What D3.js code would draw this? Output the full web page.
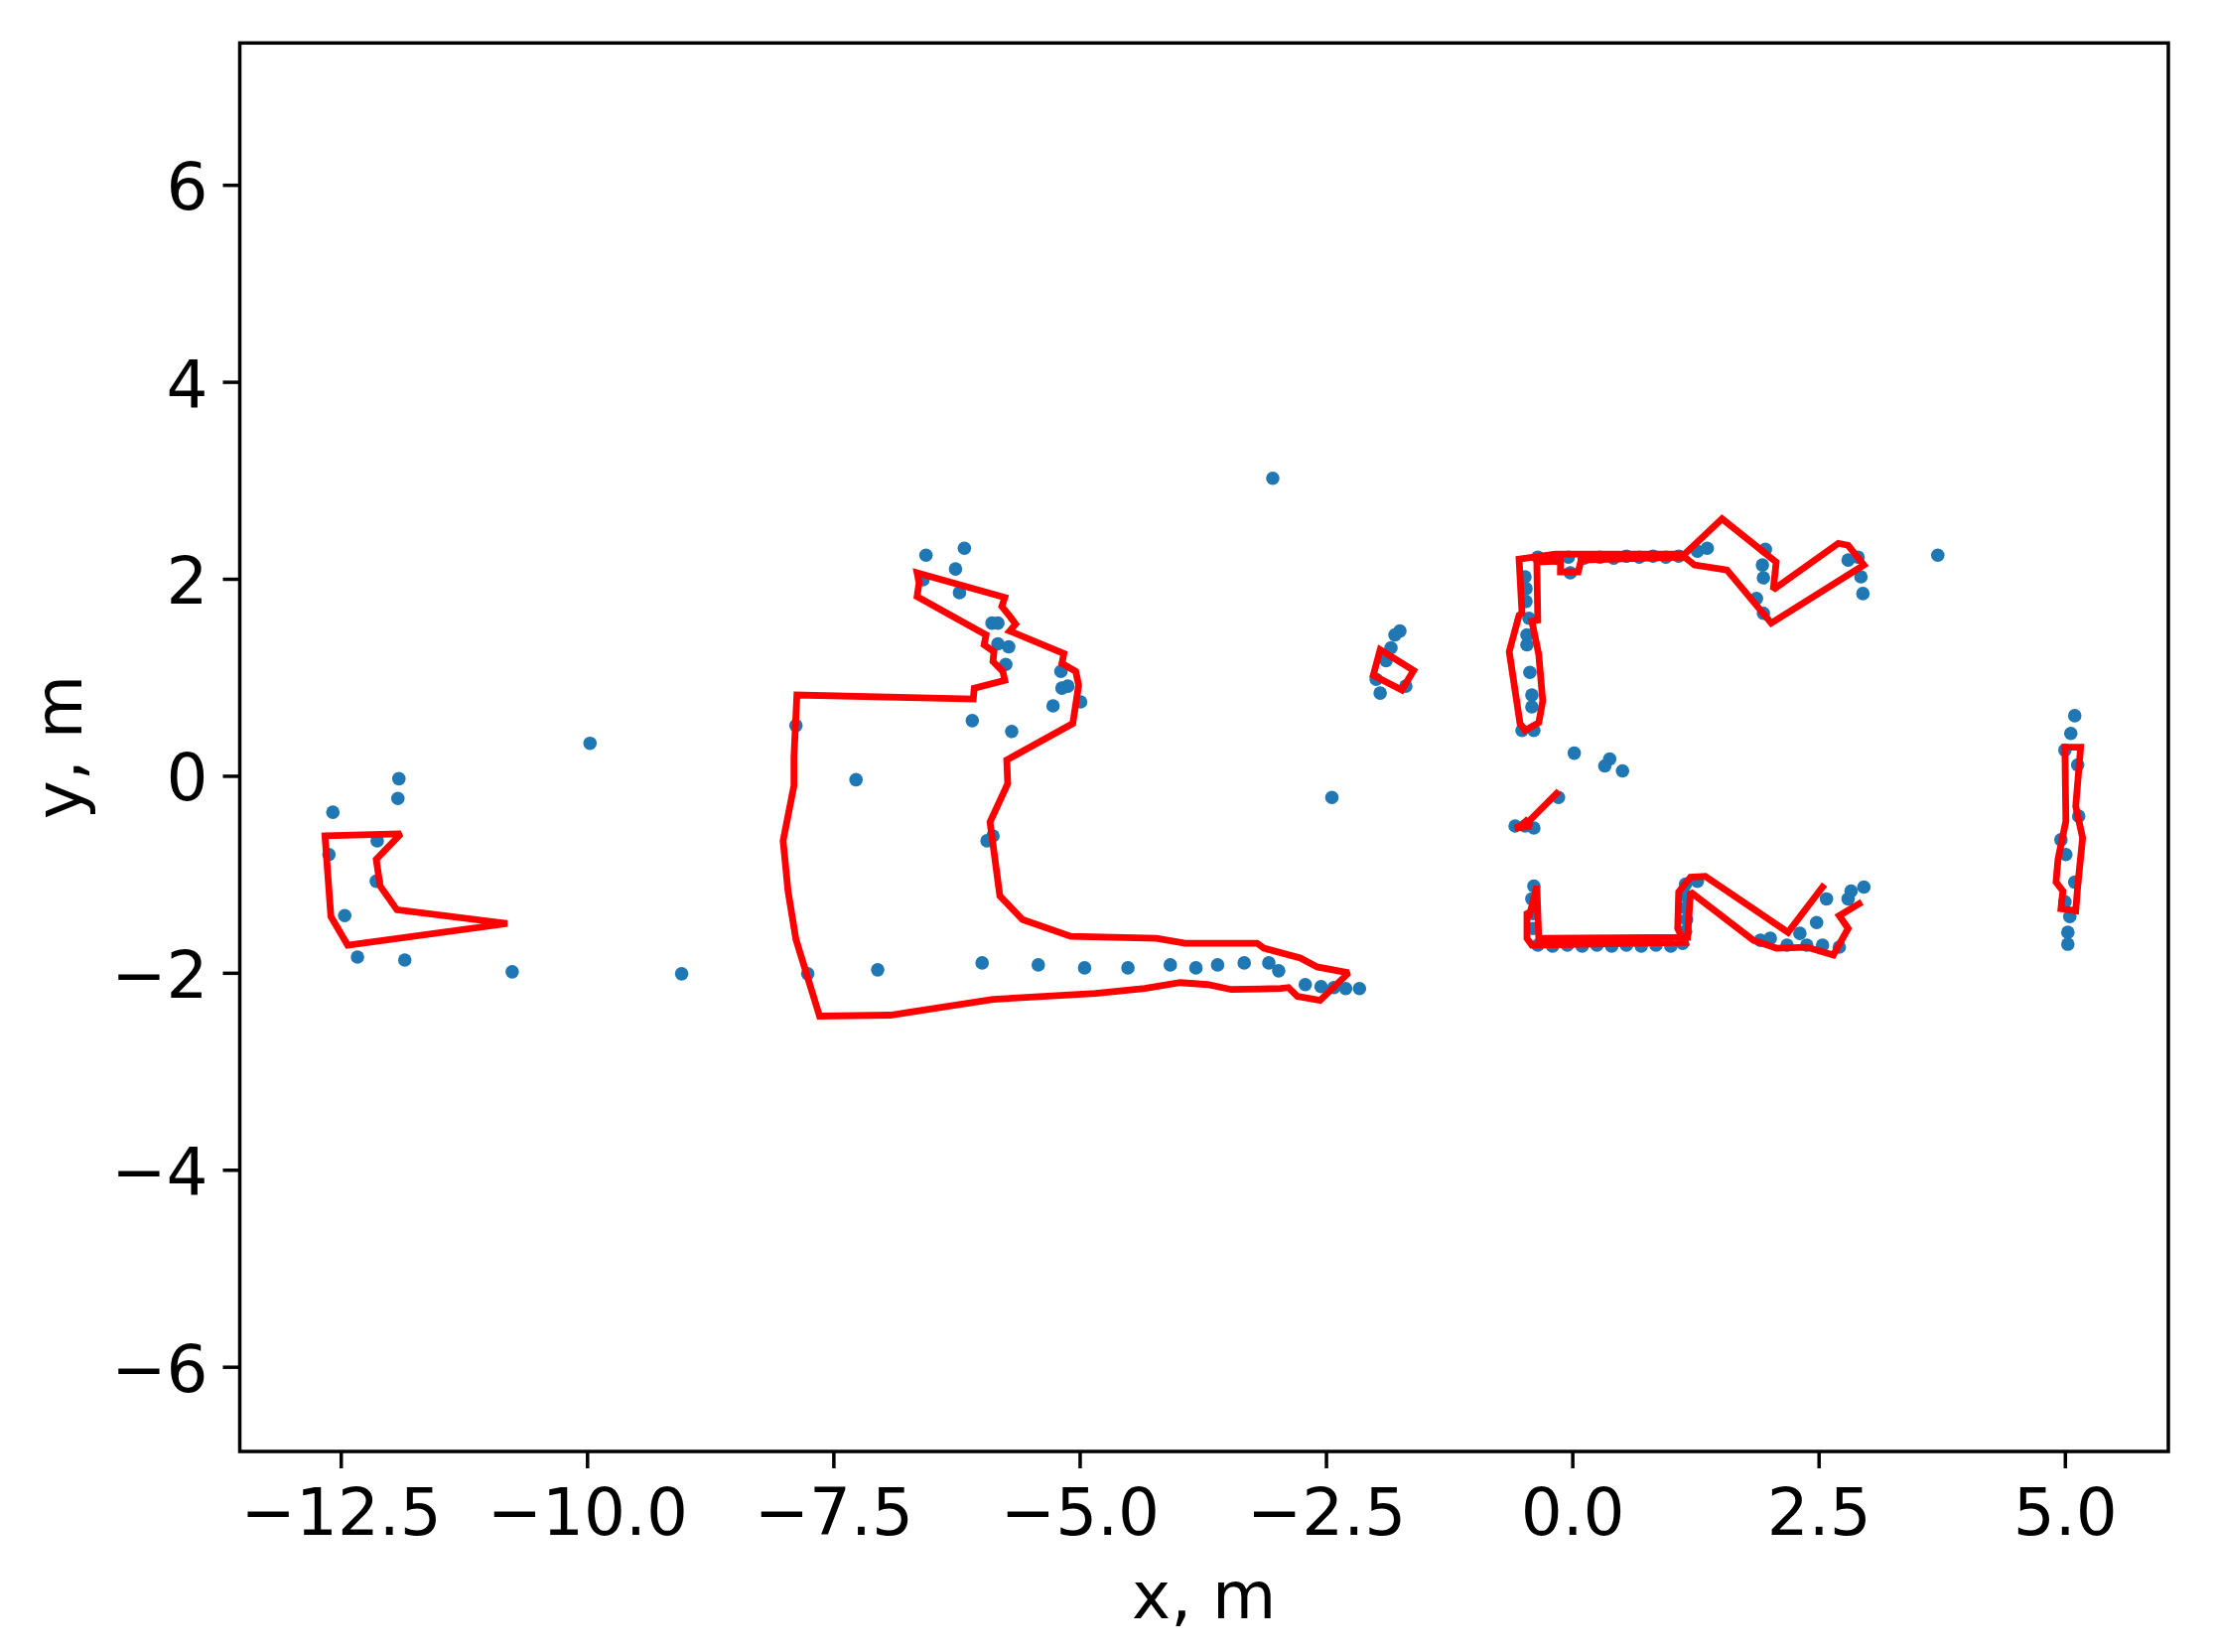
<!DOCTYPE html>
<html>
<head>
<meta charset="utf-8">
<script src="https://cdn.jsdelivr.net/npm/d3@7"></script>
<style>
  html, body { margin: 0; padding: 0; background: #fff; }
  svg { display: block; font-family: 'DejaVu Sans', sans-serif; }
</style>
</head>
<body>
<div id="app"></div>
<script>
'use strict'

// Axis ticks
const xTicks = [-12.5, -10, -7.5, -5, -2.5, 0, 2.5, 5]
const yTicks = [-6, -4, -2, 0, 2, 4, 6]

// Scan points, metres
const scanLeft = [
  [-11.91, -0.03], [-11.92, -0.23], [-12.58, -0.37], [-12.13, -0.66], [-12.62, -0.80],
  [-12.14, -1.07], [-12.46, -1.42], [-12.33, -1.84], [-11.85, -1.87]
]
const scanSparse = [
  [-9.97, 0.33], [-10.76, -1.99], [-9.04, -2.01], [-7.27, -0.04],
  [-3.04, 3.02], [-2.44, -0.22], [3.71, 2.24]
]
const scanRoom = [
  [-6.56, 2.24], [-6.17, 2.31], [-6.26, 2.10], [-6.59, 1.99], [-6.22, 1.86],
  [-5.89, 1.55], [-5.83, 1.55], [-5.83, 1.34], [-5.72, 1.31], [-5.75, 1.13],
  [-5.19, 1.06], [-5.18, 0.89], [-5.12, 0.91], [-5.27, 0.71], [-4.99, 0.75],
  [-6.09, 0.56], [-5.69, 0.45], [-7.88, 0.51], [-5.94, -0.66], [-5.88, -0.61],
  [-7.76, -2.01], [-7.05, -1.97], [-5.99, -1.90], [-5.42, -1.92], [-4.95, -1.95],
  [-4.51, -1.95], [-4.08, -1.92], [-3.82, -1.95], [-3.60, -1.92], [-3.33, -1.90],
  [-3.08, -1.90], [-2.98, -1.98], [-2.71, -2.12], [-2.55, -2.14], [-2.42, -2.15],
  [-2.30, -2.16], [-2.16, -2.16]
]
const scanBox = [
  [-1.75, 1.47], [-1.80, 1.43], [-1.84, 1.30], [-1.89, 1.17], [-1.99, 0.98],
  [-1.95, 0.84], [-1.69, 0.91]
]
const scanUpper = [
  [-0.48, 2.02], [-0.47, 1.90], [-0.47, 1.77], [-0.44, 1.60], [-0.46, 1.43],
  [-0.46, 1.33], [-0.43, 1.05], [-0.41, 0.82], [-0.41, 0.70], [-0.51, 0.46],
  [-0.39, 0.46], [-0.35, 2.22], [-0.17, 2.21], [-0.02, 2.06], [-0.04, 2.22],
  [0.12, 2.21], [0.28, 2.22], [0.42, 2.21], [0.55, 2.23], [0.68, 2.22],
  [0.82, 2.23], [0.95, 2.22], [1.08, 2.23], [1.27, 2.28], [1.37, 2.31],
  [1.96, 2.30], [1.93, 2.14], [1.94, 2.01], [1.87, 1.80], [1.94, 1.65],
  [2.80, 2.19], [2.90, 2.22], [2.93, 2.02], [2.95, 1.85],
  [0.02, 0.23], [0.38, 0.17], [0.33, 0.10], [0.51, 0.05]
]
const scanLower = [
  [-0.14, -0.22], [-0.58, -0.51], [-0.48, -0.51], [-0.39, -0.53],
  [-0.39, -1.12], [-0.41, -1.25], [-0.40, -1.40], [-0.40, -1.55],
  [-0.35, -1.72], [-0.20, -1.73], [-0.05, -1.72], [0.10, -1.73], [0.25, -1.72],
  [0.40, -1.73], [0.55, -1.72], [0.70, -1.73], [0.85, -1.72], [1.00, -1.73],
  [1.12, -1.70], [1.15, -1.10], [1.16, -1.22], [1.15, -1.34], [1.16, -1.46],
  [1.15, -1.58], [1.27, -1.07], [1.91, -1.67], [2.01, -1.65], [2.18, -1.72],
  [2.31, -1.60], [2.48, -1.49], [2.38, -1.72], [2.54, -1.72], [2.71, -1.74],
  [2.58, -1.25], [2.80, -1.25], [2.83, -1.17], [2.96, -1.13]
]
const scanRight = [
  [5.10, 0.61], [5.06, 0.43], [5.00, 0.26], [5.13, 0.11], [5.14, -0.41],
  [4.96, -0.65], [5.01, -0.80], [5.10, -1.08], [5.00, -1.28], [5.05, -1.43],
  [5.03, -1.59], [5.03, -1.71]
]

// Fitted outlines, metres
const outlineLeft = [
  [-12.66, -0.61], [-11.89, -0.59], [-12.14, -0.85], [-12.10, -1.12], [-11.93, -1.36],
  [-10.81, -1.50], [-12.43, -1.72], [-12.60, -1.43]
]
const outlineRoom = [
  [-6.65, 2.06], [-5.76, 1.81], [-5.79, 1.72], [-5.71, 1.62], [-5.65, 1.54],
  [-5.71, 1.47], [-5.16, 1.24], [-5.18, 1.14], [-5.04, 1.06], [-5.01, 0.92],
  [-5.07, 0.53], [-5.74, 0.16], [-5.73, -0.08], [-5.91, -0.47], [-5.81, -1.22],
  [-5.58, -1.46], [-5.09, -1.63], [-4.22, -1.65], [-3.93, -1.70], [-3.20, -1.70],
  [-3.13, -1.75], [-2.76, -1.85], [-2.59, -1.94], [-2.27, -2.00], [-2.56, -2.28],
  [-2.79, -2.24], [-2.88, -2.15], [-2.96, -2.16], [-3.46, -2.17], [-3.70, -2.12],
  [-3.98, -2.10], [-4.34, -2.16], [-4.84, -2.21], [-5.88, -2.27], [-6.92, -2.43],
  [-7.64, -2.44], [-7.88, -1.66], [-7.96, -1.17], [-8.01, -0.66], [-7.90, -0.10],
  [-7.90, 0.19], [-7.87, 0.82], [-6.08, 0.78], [-6.07, 0.89], [-5.76, 0.97],
  [-5.78, 1.06], [-5.88, 1.16], [-5.87, 1.26], [-5.97, 1.33], [-5.95, 1.43],
  [-6.65, 1.82], [-6.63, 1.96]
]
const outlineBox = [
  [-1.95, 1.28], [-1.61, 1.07], [-1.73, 0.87], [-2.02, 1.02]
]
const outlineUpper = [
  [-0.36, 2.17], [-0.35, 1.58], [-0.41, 1.57], [-0.34, 1.23], [-0.30, 0.76],
  [-0.34, 0.54], [-0.48, 0.46], [-0.53, 0.53], [-0.64, 1.26], [-0.54, 1.63],
  [-0.51, 1.65], [-0.54, 2.20], [-0.17, 2.25], [1.14, 2.25], [1.52, 2.61],
  [2.07, 2.17], [2.04, 1.89], [2.70, 2.36], [2.80, 2.34], [2.96, 2.14],
  [2.02, 1.55], [1.57, 2.09], [1.24, 2.14], [1.14, 2.22], [0.09, 2.19],
  [0.06, 2.07], [-0.12, 2.07], [-0.12, 2.18]
]
const outlineStub = [
  [-0.16, -0.18], [-0.46, -0.48], [-0.58, -0.53], [-0.42, -0.51], [-0.47, -0.46]
]
const outlineLower = [
  [2.54, -1.13], [2.19, -1.59], [1.35, -1.02], [1.20, -1.03], [1.08, -1.18],
  [1.07, -1.55], [1.14, -1.69], [-0.41, -1.72], [-0.46, -1.65], [-0.46, -1.38],
  [-0.43, -1.40], [-0.36, -1.12], [-0.34, -1.65], [1.17, -1.64], [1.20, -1.18],
  [1.84, -1.67], [2.07, -1.75], [2.38, -1.74], [2.65, -1.82], [2.80, -1.55],
  [2.71, -1.42], [2.91, -1.30]
]
const outlineRight = [
  [5.00, 0.29], [5.16, 0.29], [5.11, -0.31], [5.18, -0.63], [5.13, -1.12],
  [5.11, -1.37], [4.96, -1.35], [4.98, -1.17], [4.91, -1.08], [4.93, -0.85],
  [5.01, -0.46]
]

const setWidth = 2231
const setHeight = 1664
const frame = { left: 241.5, right: 2184, top: 43.3, bottom: 1462 }
const fontSize = 66

const svg = d3.select('#app')
  .append('svg')
  .attr('width', setWidth)
  .attr('height', setHeight)

svg.append('rect')
  .attr('width', setWidth)
  .attr('height', setHeight)
  .attr('fill', '#fff')

const scaleX = d3.scaleLinear()
  .domain([-13.525, 6.05])
  .range([frame.left, frame.right])

const scaleY = d3.scaleLinear()
  .domain([-6.86, 7.44])
  .range([frame.bottom, frame.top])

// points
const scans = [].concat(scanLeft, scanSparse, scanRoom, scanBox, scanUpper, scanLower, scanRight)

svg.append('g')
  .selectAll('circle')
  .data(scans)
  .enter()
  .append('circle')
  .attr('cx', d => scaleX(d[0]))
  .attr('cy', d => scaleY(d[1]))
  .attr('r', 6.8)
  .attr('fill', '#1f77b4')

// outlines
const closedLine = d3.line()
  .x(d => scaleX(d[0]))
  .y(d => scaleY(d[1]))
  .curve(d3.curveLinearClosed)

const openLine = d3.line()
  .x(d => scaleX(d[0]))
  .y(d => scaleY(d[1]))

const outlines = [
  { pts: outlineLeft, closed: true },
  { pts: outlineRoom, closed: true },
  { pts: outlineBox, closed: true },
  { pts: outlineUpper, closed: true },
  { pts: outlineStub, closed: false },
  { pts: outlineLower, closed: false },
  { pts: outlineRight, closed: true }
]

svg.append('g')
  .selectAll('path')
  .data(outlines)
  .enter()
  .append('path')
  .attr('d', d => (d.closed ? closedLine : openLine)(d.pts))
  .attr('fill', 'none')
  .attr('stroke', '#ff0000')
  .attr('stroke-width', 6.8)
  .attr('stroke-linejoin', 'miter')
  .attr('stroke-miterlimit', 2)
  .attr('stroke-linecap', 'square')

// axes
const axisX = svg.append('g')
  .attr('transform', `translate(0,${frame.bottom})`)
  .call(d3.axisBottom(scaleX)
    .tickValues(xTicks)
    .tickFormat(d3.format('.1f'))
    .tickSize(17)
    .tickPadding(20))

const axisY = svg.append('g')
  .attr('transform', `translate(${frame.left},0)`)
  .call(d3.axisLeft(scaleY)
    .tickValues(yTicks)
    .tickFormat(d3.format('d'))
    .tickSize(17)
    .tickPadding(15))

;[axisX, axisY].forEach(g => {
  g.select('.domain').remove()
  g.selectAll('.tick line').attr('stroke', '#000').attr('stroke-width', 3.5)
  g.selectAll('.tick text')
    .attr('fill', '#000')
    .style('font-family', "'DejaVu Sans', sans-serif")
    .style('font-size', fontSize + 'px')
})
axisY.selectAll('.tick text').attr('dy', '0.37em')

svg.append('rect')
  .attr('x', frame.left)
  .attr('y', frame.top)
  .attr('width', frame.right - frame.left)
  .attr('height', frame.bottom - frame.top)
  .attr('fill', 'none')
  .attr('stroke', '#000')
  .attr('stroke-width', 3.5)

// labels
svg.append('text')
  .attr('x', (frame.left + frame.right) / 2)
  .attr('y', 1630)
  .attr('text-anchor', 'middle')
  .style('font-size', fontSize + 'px')
  .text('x, m')

svg.append('text')
  .attr('transform', `translate(82,${(frame.top + frame.bottom) / 2}) rotate(-90)`)
  .attr('text-anchor', 'middle')
  .style('font-size', fontSize + 'px')
  .text('y, m')
</script>
</body>
</html>
